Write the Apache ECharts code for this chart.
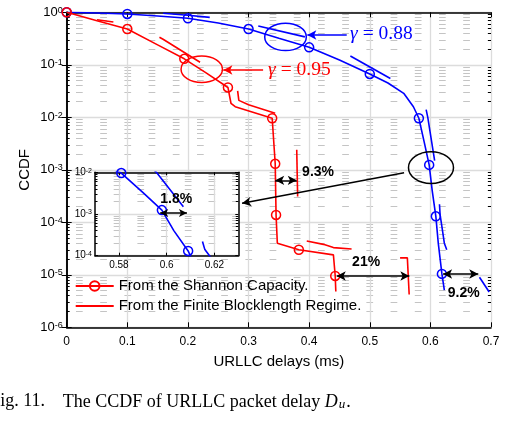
<!DOCTYPE html>
<html><head><meta charset="utf-8">
<script src="https://cdn.jsdelivr.net/npm/echarts@6/dist/echarts.min.js"></script>
<style>html,body{margin:0;padding:0;background:#fff}#c{width:511px;height:421px}</style>
</head><body><div id="c"></div>
<script>
// ---------------- data ----------------
const xTicks = [0, 0.1, 0.2, 0.3, 0.4, 0.5, 0.6, 0.7];
const insetXTicks = [0.58, 0.6, 0.62];

// gamma = 0.95, Shannon capacity (red, with circle markers)
const redDelay  = [0, 0.05, 0.1, 0.15, 0.194, 0.23, 0.266, 0.271, 0.278, 0.339, 0.344, 0.3454, 0.3475, 0.383, 0.44, 0.443, 0.444];
const redCcdf   = [1, 0.69, 0.48, 0.24, 0.13, 0.07, 0.037, 0.0185, 0.0159, 0.0096, 1.3e-3, 1.38e-4, 4e-5, 3e-5, 2.4e-5, 9.5e-6, 4.8e-6];
const redMarked = [1, 0, 1, 0, 1, 0, 1, 0, 0, 1, 1, 1, 0, 1, 0, 1, 0];

// gamma = 0.88, Shannon capacity (blue, with circle markers)
const blueDelay  = [0, 0.05, 0.1, 0.15, 0.2, 0.25, 0.3, 0.35, 0.4, 0.45, 0.5, 0.53, 0.556, 0.572, 0.581, 0.59, 0.598, 0.603, 0.609, 0.613, 0.619, 0.623];
const blueCcdf   = [1, 0.97, 0.93, 0.85, 0.77, 0.625, 0.48, 0.32, 0.215, 0.123, 0.067, 0.045, 0.0286, 0.0159, 0.0096, 0.0033, 1.24e-3, 4e-4, 1.3e-4, 4e-5, 1.04e-5, 5.1e-6];
const blueMarked = [1, 0, 1, 0, 1, 0, 1, 0, 1, 0, 1, 0, 0, 0, 1, 0, 1, 0, 1, 0, 1, 0];

// finite blocklength regime (short segments, no markers)
const redFbl1 = [[0.05, 0.72], [0.077, 0.655]];
const redFbl2 = [[0.153, 0.334], [0.159, 0.306], [0.22, 0.112]];
const redFbl3 = [[0.282, 0.032], [0.284, 0.021], [0.30, 0.0174], [0.344, 0.012]];
const redFbl4 = [[0.3795, 2.4e-3], [0.381, 3.1e-4]];
const redFbl5 = [[0.396, 4.4e-5], [0.4235, 3.8e-5], [0.44, 3.3e-5], [0.47, 3.1e-5]];
const redFbl6 = [[0.55, 2.1e-5], [0.562, 2.1e-5], [0.565, 4.2e-6]];

const blueFbl1 = [[0.159, 0.957], [0.2, 0.88], [0.236, 0.80]];
const blueFbl2 = [[0.316, 0.55], [0.393, 0.34]];
const blueFbl3 = [[0.468, 0.147], [0.534, 0.055]];
const blueFbl4 = [[0.593, 0.014], [0.5957, 0.01], [0.6021, 3.4e-3], [0.607, 1.5e-3]];
const blueFbl5 = [[0.615, 2.2e-4], [0.616, 1.4e-4], [0.619, 8.3e-5], [0.623, 4e-5], [0.627, 3e-5]];
const blueFbl6 = [[0.681, 9e-6], [0.697, 4.7e-6]];

// gap annotations (double arrows)
const gapText  = ['9.3%', '21%', '9.2%'];
const gapFromX = [0.344, 0.4455, 0.621];
const gapToX   = [0.3795, 0.5653, 0.679];
const gapY     = [6.3e-4, 9.5e-6, 1.035e-5];
const gapTextX = [0.4147, 0.494, 0.655];
const gapTextY = [8.95e-4, 1.73e-5, 4.5e-6];
const insetGap = {text: '1.8%', fromX: 0.5973, toX: 0.6085, y: 1.05e-3, textX: 0.604, textY: 2.3e-3};

const legendNames = ['From the Shannon Capacity.', 'From the Finite Blocklength Regime.'];

// ---------------- styles ----------------
const RED = '#ff0000', BLUE = '#0000ff';
const SANS = 'Liberation Sans, Arial, sans-serif';
const SERIF = 'Liberation Serif, Times New Roman, serif';
const GRID_C = '#dcdcdc', MINOR_C = '#c4c4c4';

function minorPositions(lo, hi) {
  const out = [];
  for (let d = lo; d < hi; d++) for (let k = 2; k <= 9; k++) out.push(d + Math.log10(k));
  return out;
}

function markedData(xs, ys, flags) {
  return xs.map((x, i) => flags[i] ? {value: [x, ys[i]]} : {value: [x, ys[i]], symbol: 'none'});
}

const expFmt = v => '{b|10}{s|' + Math.round(Math.log10(v)) + '}';

function mainY(extra) { return Object.assign({
  type: 'log', logBase: 10, min: 1e-6, max: 1, interval: 1,
  axisLine: {show: true, lineStyle: {color: '#000', width: 1.5}},
  axisTick: {show: true, inside: true, length: 5, lineStyle: {color: '#000', width: 1}},
  splitLine: {show: false}, axisLabel: {show: false}
}, extra); }

function minorY(extra) { return Object.assign({
  type: 'value', min: -6, max: 0,
  axisLine: {show: false},
  axisTick: {show: true, inside: true, length: 3, customValues: minorPositions(-6, 0), lineStyle: {color: '#000', width: 1}},
  axisLabel: {show: false}, splitLine: {show: false}
}, extra); }

const lineBase = {type: 'line', smooth: false, animation: false, silent: true, clip: true};

function seg(name, data, color, xi, yi, z) {
  return Object.assign({}, lineBase, {name, data, symbol: 'none', xAxisIndex: xi, yAxisIndex: yi, z: z,
    lineStyle: {color, width: 1.6}, itemStyle: {color}});
}

function marked(name, xs, ys, flags, color, xi, yi, z, extra) {
  return Object.assign({}, lineBase, {name, data: markedData(xs, ys, flags),
    symbol: 'circle', symbolSize: 9, xAxisIndex: xi, yAxisIndex: yi, z: z,
    lineStyle: {color, width: 1.6},
    itemStyle: {color: 'rgba(255,255,255,0)', borderColor: color, borderWidth: 1.5}}, extra || {});
}

const arrowLine = (from, to, color, sym) => [{coord: from, symbol: sym[0]}, {coord: to, symbol: sym[1]}];

const chart = echarts.init(document.getElementById('c'), null, {renderer: 'canvas'});

const option = {
  animation: false,
  backgroundColor: '#fff',
  textStyle: {fontFamily: SANS},
  grid: [
    {left: 66.7, top: 12.3, width: 424.3, height: 315, outerBoundsMode: 'none', containLabel: false},
    {left: 95, top: 172.3, width: 143.3, height: 83.4, show: true, backgroundColor: '#fff', borderWidth: 0, z: 10, outerBoundsMode: 'none', containLabel: false}
  ],
  xAxis: [
    {gridIndex: 0, type: 'value', min: 0, max: 0.7, interval: 0.1, position: 'bottom',
     name: 'URLLC delays (ms)', nameLocation: 'middle', nameGap: 27, nameMoveOverlap: false,
     nameTextStyle: {fontSize: 15, color: '#000', fontFamily: SANS},
     axisLine: {show: true, onZero: false, lineStyle: {color: '#000', width: 1.5}},
     axisTick: {show: true, inside: true, length: 5, lineStyle: {color: '#000'}},
     axisLabel: {show: true, fontSize: 12, color: '#000', margin: 8, fontFamily: SANS,
       formatter: v => String(+v.toFixed(2))},
     splitLine: {show: true, lineStyle: {color: GRID_C, width: 1.3}}},
    {gridIndex: 0, type: 'value', min: 0, max: 0.7, interval: 0.1, position: 'top',
     axisLine: {show: true, onZero: false, lineStyle: {color: '#000', width: 1.5}},
     axisTick: {show: true, inside: true, length: 5, lineStyle: {color: '#000'}},
     axisLabel: {show: false}, splitLine: {show: false}},
    {gridIndex: 1, type: 'value', min: 0.57, max: 0.63, position: 'bottom', z: 10,
     axisLine: {show: true, onZero: false, lineStyle: {color: '#000', width: 1.5}},
     axisTick: {show: true, inside: true, length: 3, customValues: insetXTicks, lineStyle: {color: '#000'}},
     axisLabel: {show: true, fontSize: 10, color: '#000', margin: 5, customValues: insetXTicks, fontFamily: SANS,
       formatter: v => String(+(+v).toFixed(2))},
     splitLine: {show: true, lineStyle: {color: GRID_C, width: 1.3}}},
    {gridIndex: 1, type: 'value', min: 0.57, max: 0.63, position: 'top', z: 10,
     axisLine: {show: true, onZero: false, lineStyle: {color: '#000', width: 1.5}},
     axisTick: {show: true, inside: true, length: 3, customValues: insetXTicks, lineStyle: {color: '#000'}},
     axisLabel: {show: false}, splitLine: {show: false}}
  ],
  yAxis: [
    mainY({gridIndex: 0, position: 'left', name: 'CCDF', nameLocation: 'middle', nameGap: 34, nameMoveOverlap: false,
      nameTextStyle: {fontSize: 15, color: '#000', fontFamily: SANS},
      splitLine: {show: true, lineStyle: {color: GRID_C, width: 1.3}},
      axisLabel: {show: true, margin: 4, formatter: expFmt, color: '#000',
        rich: {b: {fontSize: 13, fontFamily: SANS, color: '#000', lineHeight: 13, verticalAlign: 'bottom'},
               s: {fontSize: 9, fontFamily: SANS, color: '#000', lineHeight: 9, verticalAlign: 'top', padding: [0, 0, 8, 0]}}}}),
    mainY({gridIndex: 0, position: 'right'}),
    minorY({gridIndex: 0, position: 'left',
      splitLine: {show: true, lineStyle: {color: MINOR_C, width: 1.2, type: [6.7, 17.5], dashOffset: 14.9}}}),
    minorY({gridIndex: 0, position: 'right'}),
    mainY({gridIndex: 1, position: 'left', min: 1e-4, max: 1e-2, z: 10,
      splitLine: {show: true, lineStyle: {color: GRID_C, width: 1.3}},
      axisTick: {show: true, inside: true, length: 3, lineStyle: {color: '#000'}},
      axisLabel: {show: true, margin: 3, formatter: expFmt, color: '#000',
        rich: {b: {fontSize: 10, fontFamily: SANS, color: '#000', lineHeight: 10, verticalAlign: 'bottom'},
               s: {fontSize: 7, fontFamily: SANS, color: '#000', lineHeight: 7, verticalAlign: 'top', padding: [0, 0, 6, 0]}}}}),
    mainY({gridIndex: 1, position: 'right', min: 1e-4, max: 1e-2, z: 10,
      axisTick: {show: true, inside: true, length: 3, lineStyle: {color: '#000'}}}),
    minorY({gridIndex: 1, position: 'left', min: -4, max: -2, z: 10,
      axisTick: {show: true, inside: true, length: 2.5, customValues: minorPositions(-4, -2), lineStyle: {color: '#000'}},
      splitLine: {show: true, lineStyle: {color: MINOR_C, width: 1.2, type: [6.7, 17], dashOffset: 5}}}),
    minorY({gridIndex: 1, position: 'right', min: -4, max: -2, z: 10,
      axisTick: {show: true, inside: true, length: 2.5, customValues: minorPositions(-4, -2), lineStyle: {color: '#000'}}})
  ],
  legend: {
    show: true,
    data: [{name: legendNames[0]}, {name: legendNames[1], itemStyle: {opacity: 0}}],
    orient: 'vertical', left: 69.7, top: 272,
    itemWidth: 38, itemHeight: 12, itemGap: 2, padding: 5, selectedMode: false,
    textStyle: {fontSize: 15, color: '#000', fontFamily: SANS, lineHeight: 18}
  },
  series: [
    seg('b1', blueFbl1, BLUE, 0, 0, 3), seg('b2', blueFbl2, BLUE, 0, 0, 3), seg('b3', blueFbl3, BLUE, 0, 0, 3),
    seg('b4', blueFbl4, BLUE, 0, 0, 3), seg('b5', blueFbl5, BLUE, 0, 0, 3), seg('b6', blueFbl6, BLUE, 0, 0, 3),
    marked('blue Shannon', blueDelay, blueCcdf, blueMarked, BLUE, 0, 0, 3, {
      markLine: {silent: true, animation: false, symbolSize: [7, 9], label: {show: false},
        lineStyle: {color: BLUE, width: 1.5, type: 'solid'},
        data: [arrowLine([0.462, 0.37], [0.397, 0.37], BLUE, ['none', 'arrow'])]}}),
    marked(legendNames[0], redDelay, redCcdf, redMarked, RED, 0, 0, 4, {
      markLine: {silent: true, animation: false, symbolSize: [7, 9], label: {show: false},
        lineStyle: {color: RED, width: 1.5, type: 'solid'},
        data: [arrowLine([0.324, 0.0796], [0.2585, 0.0796], RED, ['none', 'arrow'])]}}),
    seg(legendNames[1], redFbl1, RED, 0, 0, 4), seg(legendNames[1], redFbl2, RED, 0, 0, 4),
    seg(legendNames[1], redFbl3, RED, 0, 0, 4), seg(legendNames[1], redFbl4, RED, 0, 0, 4),
    seg(legendNames[1], redFbl5, RED, 0, 0, 4),
    Object.assign(seg(legendNames[1], redFbl6, RED, 0, 0, 4), {
      markLine: {silent: true, animation: false, symbolSize: [7, 9], label: {show: false},
        lineStyle: {color: '#000', width: 1.5, type: 'solid'},
        data: gapText.map((t, i) => arrowLine([gapFromX[i], gapY[i]], [gapToX[i], gapY[i]], '#000', ['arrow', 'arrow']))
          .concat([arrowLine([0.5566, 8.8e-4], [0.2893, 2.3e-4], '#000', ['none', 'arrow'])])}}),
    // inset
    seg('ib4', blueFbl4, BLUE, 2, 4, 12), seg('ib5', blueFbl5, BLUE, 2, 4, 12),
    marked('inset blue', blueDelay, blueCcdf, blueMarked, BLUE, 2, 4, 12, {
      markLine: {silent: true, animation: false, symbolSize: [6, 8], label: {show: false}, z: 13,
        lineStyle: {color: '#000', width: 1.5, type: 'solid'},
        data: [arrowLine([insetGap.fromX, insetGap.y], [insetGap.toX, insetGap.y], '#000', ['arrow', 'arrow'])]}})
  ]
};
chart.setOption(option);

// annotation graphics positioned from data coordinates
const P = (x, y) => chart.convertToPixel({xAxisIndex: 0, yAxisIndex: 0}, [x, y]);
const PI = (x, y) => chart.convertToPixel({xAxisIndex: 2, yAxisIndex: 4}, [x, y]);
const graphics = [];
function ellipse(c, rx, ry, color) {
  graphics.push({type: 'ellipse', shape: {cx: c[0], cy: c[1], rx, ry}, z: 20,
    style: {fill: 'none', stroke: color, lineWidth: 1.5}, silent: true});
}
ellipse(P(0.2228, 0.082), 20.7, 13.3, RED);
ellipse(P(0.361, 0.34), 20.8, 13.7, BLUE);
ellipse(P(0.601, 1.1e-3), 22.5, 15.8, '#000');
function txt(p, text, opts) {
  graphics.push(Object.assign({type: 'text', x: p[0], y: p[1], z: 21, silent: true,
    style: Object.assign({text, fill: '#000', align: 'center', verticalAlign: 'middle',
      font: 'bold 14px ' + SANS}, opts || {})}));
}
gapText.forEach((t, i) => txt(P(gapTextX[i], gapTextY[i]), t));
txt(PI(insetGap.textX, insetGap.textY), insetGap.text);
txt(P(0.3323, 0.0796), '', {
  text: '{i|γ}{n| = 0.95}', align: 'left', fill: RED,
  rich: {i: {fontFamily: SERIF, fontStyle: 'italic', fontSize: 19.5, fill: RED}, n: {fontFamily: SERIF, fontSize: 19.5, fill: RED}}});
txt(P(0.4675, 0.386), '', {
  text: '{i|γ}{n| = 0.88}', align: 'left', fill: BLUE,
  rich: {i: {fontFamily: SERIF, fontStyle: 'italic', fontSize: 19.5, fill: BLUE}, n: {fontFamily: SERIF, fontSize: 19.5, fill: BLUE}}});
// caption
graphics.push({type: 'text', x: 45, y: 401, z: 21, silent: true,
  style: {text: 'Fig. 11.', align: 'right', verticalAlign: 'middle', font: '18px ' + SERIF, fill: '#000'}});
graphics.push({type: 'text', x: 62.7, y: 401, z: 21, silent: true,
  style: {text: '{n|The CCDF of URLLC packet delay }{i|D}{u|u}{n|.}', align: 'left', verticalAlign: 'middle',
    font: '18px ' + SERIF, fill: '#000',
    rich: {n: {fontFamily: SERIF, fontSize: 18, fill: '#000', verticalAlign: 'bottom', lineHeight: 20},
           i: {fontFamily: SERIF, fontSize: 18, fontStyle: 'italic', fill: '#000', verticalAlign: 'bottom', lineHeight: 20},
           u: {fontFamily: SERIF, fontSize: 13, fontStyle: 'italic', fill: '#000', verticalAlign: 'bottom', lineHeight: 14, padding: [0, 1, 0, 1]}}}});
chart.setOption({graphic: graphics});
</script>
</body></html>
